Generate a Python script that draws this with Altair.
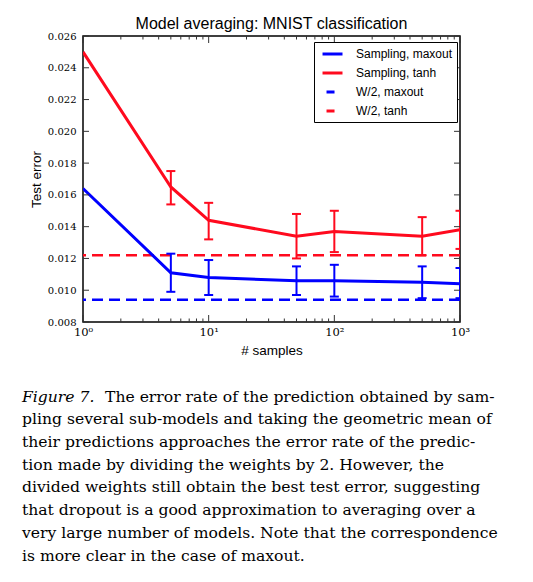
import altair as alt
import pandas as pd

# ---- data ----
samples = [1, 5, 10, 50, 100, 500, 1000]
maxout_err = [0.0164, 0.0111, 0.0108, 0.0106, 0.0106, 0.0105, 0.0104]
maxout_lo = [None, 0.0099, 0.0097, 0.0097, 0.0096, 0.0095, 0.0095]
maxout_hi = [None, 0.0123, 0.0119, 0.0115, 0.0116, 0.0115, 0.0114]
tanh_err = [0.0250, 0.0165, 0.0144, 0.0134, 0.0137, 0.0134, 0.0138]
tanh_lo = [None, 0.0154, 0.0132, 0.0120, 0.0124, 0.0122, 0.0126]
tanh_hi = [None, 0.0175, 0.0155, 0.0148, 0.0150, 0.0146, 0.0150]
w2_maxout = 0.0094
w2_tanh = 0.0122

series_labels = ["Sampling, maxout", "Sampling, tanh", "W/2, maxout", "W/2, tanh"]
BLUE = "#0000ff"
RED = "#ff0a1e"
series_colors = [BLUE, RED, BLUE, RED]

yticks = [0.008, 0.010, 0.012, 0.014, 0.016, 0.018, 0.020, 0.022, 0.024, 0.026]
xmajor = [1, 10, 100, 1000]
xmajor_labels = ["10⁰", "10¹", "10²", "10³"]
xminor = [2, 3, 4, 5, 6, 7, 8, 9, 20, 30, 40, 50, 60, 70, 80, 90,
          200, 300, 400, 500, 600, 700, 800, 900]

title_text = "Model averaging: MNIST classification"
caption_head = "Figure 7."
caption_line1 = "The error rate of the prediction obtained by sam-"
caption_rest = [
    "pling several sub-models and taking the geometric mean of",
    "their predictions approaches the error rate of the predic-",
    "tion made by dividing the weights by 2.  However, the",
    "divided weights still obtain the best test error, suggesting",
    "that dropout is a good approximation to averaging over a",
    "very large number of models. Note that the correspondence",
    "is more clear in the case of maxout.",
]

# ---- tables ----
lines_df = pd.DataFrame(
    {"samples": samples * 2,
     "err": maxout_err + tanh_err,
     "series": [series_labels[0]] * len(samples) + [series_labels[1]] * len(samples)}
)
eb_rows = []
for s, lo, hi in zip(samples, maxout_lo, maxout_hi):
    if lo is not None:
        eb_rows.append({"samples": s, "lo": lo, "hi": hi, "hex": BLUE})
for s, lo, hi in zip(samples, tanh_lo, tanh_hi):
    if lo is not None:
        eb_rows.append({"samples": s, "lo": lo, "hi": hi, "hex": RED})
eb_df = pd.DataFrame(eb_rows)
w2_df = pd.DataFrame({"err": [w2_maxout, w2_tanh], "hex": [BLUE, RED]})
ytick_df = pd.DataFrame({"err": yticks})
xmaj_df = pd.DataFrame({"samples": xmajor})
xmin_df = pd.DataFrame({"samples": xminor})

W, H = 377, 286

xscale = alt.Scale(type="log", domain=[1, 1000], nice=False)
yscale = alt.Scale(domain=[0.008, 0.026], nice=False, zero=False)

label_expr = " : ".join(
    f"datum.value == {v} ? '{t}'" for v, t in zip(xmajor[:-1], xmajor_labels[:-1])
) + f" : '{xmajor_labels[-1]}'"

xaxis = alt.Axis(values=xmajor, labelExpr=label_expr, ticks=False, domain=False, grid=False,
                 labelFont="DejaVu Serif", labelFontSize=11.5, labelColor="black",
                 labelPadding=4, labelFlush=False,
                 title="# samples", titleFont="Liberation Sans", titleFontSize=13.5,
                 titleFontWeight="normal", titleColor="black", titlePadding=6)
yaxis = alt.Axis(values=yticks, format=".3f", ticks=False, domain=False, grid=False,
                 labelFont="DejaVu Serif", labelFontSize=10, labelColor="black",
                 labelPadding=7,
                 title="Test error", titleFont="Liberation Sans", titleFontSize=13.5,
                 titleFontWeight="normal", titleColor="black", titlePadding=4)


def ax(field):
    return alt.X(f"{field}:Q", scale=xscale, axis=xaxis, title="# samples")


def ay(field):
    return alt.Y(f"{field}:Q", scale=yscale, axis=yaxis, title="Test error")


legend = alt.Legend(
    orient="none", legendX=231, legendY=6, title=None,
    symbolType="M-0.58,0H2.75", symbolSize=144, symbolStrokeWidth=3,
    symbolDash=alt.ExprRef(expr="indexof(datum.value, 'W/2') == 0 ? [0, 4, 8, 100] : [1, 0]"),
    labelFont="Liberation Sans", labelFontSize=12, labelColor="black",
    labelOffset=22.5, rowPadding=5, padding=4.5,
    strokeColor="black", fillColor="white", labelLimit=300,
)

dashed = alt.Chart(w2_df).mark_rule(strokeDash=[11, 6], strokeWidth=2.5, clip=True).encode(
    y=ay("err"), stroke=alt.Stroke("hex:N", scale=None)
)
bars = alt.Chart(eb_df).mark_rule(strokeWidth=2, clip=True).encode(
    x=ax("samples"), y=ay("lo"), y2="hi", stroke=alt.Stroke("hex:N", scale=None)
)
caps_lo = alt.Chart(eb_df).mark_tick(orient="horizontal", size=9, thickness=2, opacity=1, clip=True).encode(
    x=ax("samples"), y=ay("lo"), fill=alt.Fill("hex:N", scale=None)
)
caps_hi = alt.Chart(eb_df).mark_tick(orient="horizontal", size=9, thickness=2, opacity=1, clip=True).encode(
    x=ax("samples"), y=ay("hi"), fill=alt.Fill("hex:N", scale=None)
)
lines = alt.Chart(lines_df).mark_line(strokeWidth=3, clip=True).encode(
    x=ax("samples"), y=ay("err"),
    color=alt.Color("series:N", scale=alt.Scale(domain=series_labels, range=series_colors),
                    legend=legend),
)

TICK = "#333333"
yt_left = alt.Chart(ytick_df).mark_rule(color=TICK, strokeWidth=1).encode(
    y=ay("err"), x=alt.value(0), x2=alt.value(6))
yt_right = alt.Chart(ytick_df).mark_rule(color=TICK, strokeWidth=1).encode(
    y=ay("err"), x=alt.value(W), x2=alt.value(W - 6))
xt_bot_maj = alt.Chart(xmaj_df).mark_rule(color=TICK, strokeWidth=1).encode(
    x=ax("samples"), y=alt.value(H), y2=alt.value(H - 7))
xt_top_maj = alt.Chart(xmaj_df).mark_rule(color=TICK, strokeWidth=1).encode(
    x=ax("samples"), y=alt.value(0), y2=alt.value(7))
xt_bot_min = alt.Chart(xmin_df).mark_rule(color=TICK, strokeWidth=1).encode(
    x=ax("samples"), y=alt.value(H), y2=alt.value(H - 3.5))
xt_top_min = alt.Chart(xmin_df).mark_rule(color=TICK, strokeWidth=1).encode(
    x=ax("samples"), y=alt.value(0), y2=alt.value(3.5))

CAP_FONT = "DejaVu Serif"
CAP_SIZE = 15.6
cap_head = alt.Chart(pd.DataFrame({"t": [caption_head]})).mark_text(
    align="left", baseline="alphabetic", font=CAP_FONT, fontSize=CAP_SIZE,
    fontStyle="italic", color="black"
).encode(x=alt.value(-61), y=alt.value(365.7), text="t:N")
cap_l1 = alt.Chart(pd.DataFrame({"t": [caption_line1]})).mark_text(
    align="left", baseline="alphabetic", font=CAP_FONT, fontSize=CAP_SIZE, color="black"
).encode(x=alt.value(22), y=alt.value(365.7), text="t:N")
cap_rest = alt.Chart(pd.DataFrame({"t": ["\n".join(caption_rest)]})).mark_text(
    align="left", baseline="alphabetic", font=CAP_FONT, fontSize=CAP_SIZE, color="black",
    lineBreak="\n", lineHeight=22.7
).encode(x=alt.value(-61), y=alt.value(388.4), text="t:N")

chart = alt.layer(
    dashed, bars, caps_lo, caps_hi, lines,
    yt_left, yt_right, xt_bot_maj, xt_top_maj, xt_bot_min, xt_top_min,
    cap_head, cap_l1, cap_rest,
).properties(
    width=W, height=H,
    title=alt.TitleParams(title_text, font="Liberation Sans", fontSize=16, fontWeight="normal",
                          color="black", anchor="middle", offset=0, dy=1),
    autosize=alt.AutoSizeParams(type="none"),
    padding={"left": 75, "top": 28, "right": 60, "bottom": 252},
).configure_view(stroke="black", strokeWidth=1.5)

chart.save("out.html", embed_options={"renderer": "svg", "actions": False})
